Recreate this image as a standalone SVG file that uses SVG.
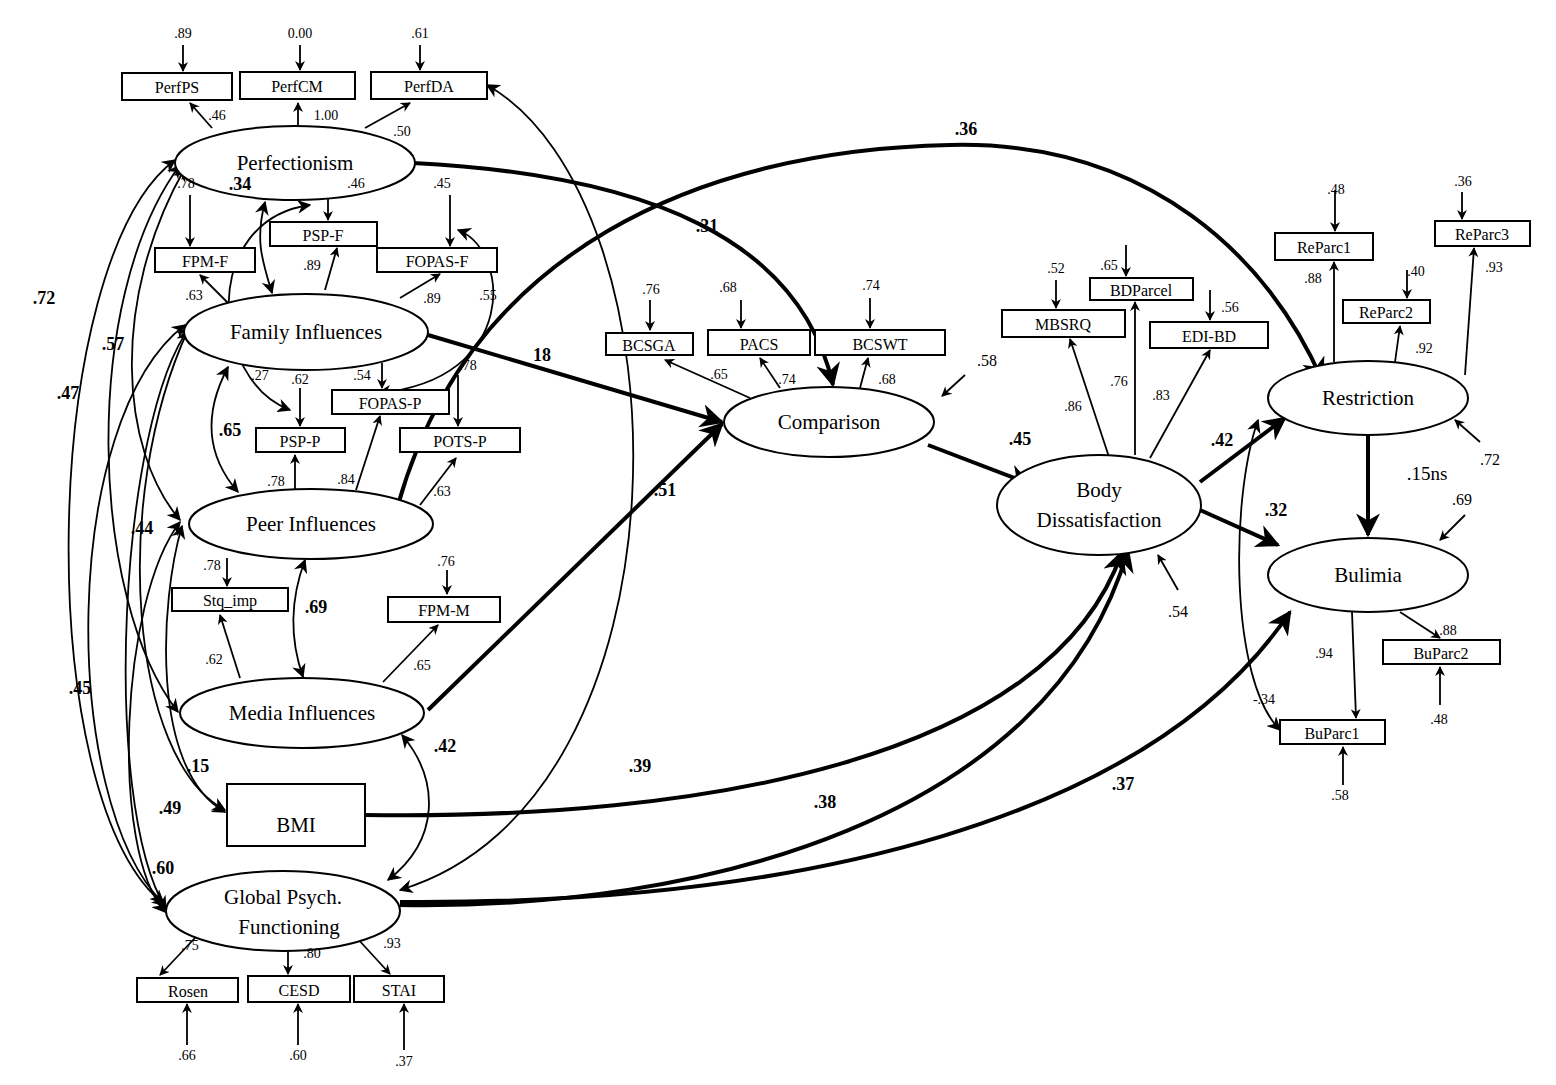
<svg xmlns="http://www.w3.org/2000/svg" width="1556" height="1085" viewBox="0 0 1556 1085">
<defs>
<marker id="a" viewBox="0 0 10 10" refX="9" refY="5" markerWidth="10" markerHeight="10" markerUnits="userSpaceOnUse" orient="auto-start-reverse"><path d="M0,0 L10,5 L0,10 L3,5 Z" fill="#000"/></marker>
<marker id="b" viewBox="0 0 10 10" refX="9" refY="5" markerWidth="14" markerHeight="14" markerUnits="userSpaceOnUse" orient="auto-start-reverse"><path d="M0,0 L10,5 L0,10 L3,5 Z" fill="#000"/></marker>
<marker id="c" viewBox="0 0 10 10" refX="9" refY="5" markerWidth="24" markerHeight="24" markerUnits="userSpaceOnUse" orient="auto"><path d="M0,0 L10,5 L0,10 L3,5 Z" fill="#000"/></marker>
</defs>
<style>
text{font-family:"Liberation Serif","Times New Roman",serif;fill:#000}
.n{font-size:21px;text-anchor:middle}
.o{font-size:16px;text-anchor:middle}
.s{font-size:14px;text-anchor:middle}
.b{font-size:18px;font-weight:bold;text-anchor:middle}
.m{font-size:19px;text-anchor:middle}
ellipse,rect{fill:#fff;stroke:#000;stroke-width:2}
.t path{fill:none;stroke:#000;stroke-width:1.8;marker-end:url(#a)}
.d path{fill:none;stroke:#000;stroke-width:1.8;marker-end:url(#b);marker-start:url(#b)}
.k path{fill:none;stroke:#000;stroke-width:4;marker-end:url(#c)}
</style>
<rect x="0" y="0" width="1556" height="1085" style="fill:#fff;stroke:none"/>
<g id="connectors">
<g class="k">
<path d="M413,163 C650,175 800,240 833,385"/>
<path d="M428,335 L722,422"/>
<path d="M398,505 C470,250 700,150 950,145 C1150,140 1270,260 1322,380"/>
<path d="M428,710 L722,424"/>
<path d="M928,445 L1030,484"/>
<path d="M365,815 C700,820 1050,760 1122,552"/>
<path d="M400,905 C700,910 1050,820 1128,550"/>
<path d="M400,902 C800,905 1150,820 1290,612"/>
<path d="M1200,482 L1285,418"/>
<path d="M1200,510 L1278,545"/>
<path d="M1368,430 L1368,535"/>
</g>
<g class="d">
<path d="M175,160 C40,260 30,800 165,905"/>
<path d="M180,165 C80,300 90,600 178,712"/>
<path d="M185,168 C110,300 120,450 180,520"/>
<path d="M185,325 C60,420 60,800 163,903"/>
<path d="M190,327 C120,420 100,800 166,909"/>
<path d="M188,330 C110,500 130,760 225,810"/>
<path d="M180,522 C120,600 110,850 165,912"/>
<path d="M182,526 C160,600 150,770 225,812"/>
<path d="M265,202 C255,240 262,260 272,293"/>
<path d="M228,367 C200,420 210,460 238,492"/>
<path d="M305,560 C290,600 290,640 303,677"/>
<path d="M402,735 C440,780 440,840 388,880"/>
<path d="M310,205 C200,220 210,380 290,410"/>
<path d="M458,230 C510,250 520,380 378,393"/>
<path d="M400,890 C700,800 690,200 487,85"/>
<path d="M1258,420 C1230,500 1230,680 1280,730"/>
</g>
<g class="t">
<path d="M183,45 L183,71"/><path d="M300,45 L300,70"/><path d="M420,45 L420,70"/>
<path d="M212,128 L190,103"/><path d="M298,150 L298,103"/><path d="M365,128 L410,103"/>
<path d="M190,195 L190,246"/><path d="M328,195 L328,220"/><path d="M450,195 L450,246"/>
<path d="M230,305 L200,275"/><path d="M325,290 L337,248"/><path d="M400,298 L440,274"/>
<path d="M382,363 L382,388"/><path d="M458,375 L458,426"/><path d="M300,388 L300,426"/>
<path d="M295,490 L295,455"/><path d="M356,490 L380,416"/><path d="M420,505 L456,458"/>
<path d="M227,558 L227,586"/><path d="M240,678 L220,615"/><path d="M447,570 L447,594"/><path d="M383,682 L438,625"/>
<path d="M210,922 L160,975"/><path d="M288,925 L288,974"/><path d="M345,925 L390,974"/>
<path d="M187,1045 L187,1004"/><path d="M298,1045 L298,1004"/><path d="M404,1050 L404,1004"/>
<path d="M650,300 L650,330"/><path d="M741,300 L741,328"/><path d="M870,298 L870,328"/>
<path d="M965,375 L942,396"/>
<path d="M750,398 L665,360"/><path d="M780,388 L760,358"/><path d="M860,388 L868,358"/>
<path d="M1056,280 L1056,308"/><path d="M1126,245 L1126,276"/><path d="M1210,290 L1210,320"/>
<path d="M1110,460 L1070,339"/><path d="M1135,455 L1135,302"/><path d="M1150,458 L1210,350"/>
<path d="M1178,590 L1158,555"/>
<path d="M1335,190 L1335,231"/><path d="M1407,270 L1407,298"/><path d="M1462,192 L1462,219"/>
<path d="M1334,362 L1334,262"/><path d="M1395,362 L1400,326"/><path d="M1465,375 L1474,248"/>
<path d="M1480,442 L1455,420"/><path d="M1465,515 L1440,540"/>
<path d="M1352,612 L1356,718"/><path d="M1400,612 L1440,638"/>
<path d="M1440,705 L1440,667"/><path d="M1343,785 L1343,747"/>
</g>
</g>
<g id="perf"><ellipse cx="295" cy="163" rx="120" ry="37"/><text class="n" x="295" y="170">Perfectionism</text></g>
<g id="family"><ellipse cx="306" cy="332" rx="122" ry="38"/><text class="n" x="306" y="339">Family Influences</text></g>
<g id="peer"><ellipse cx="311" cy="524" rx="122" ry="35"/><text class="n" x="311" y="531">Peer Influences</text></g>
<g id="media"><ellipse cx="302" cy="713" rx="122" ry="35"/><text class="n" x="302" y="720">Media Influences</text></g>
<g id="bmi"><rect x="227" y="784" width="138" height="62"/><text class="n" x="296" y="832">BMI</text></g>
<g id="global"><ellipse cx="283" cy="911" rx="117" ry="40"/><text class="n" x="283" y="904">Global Psych.</text><text class="n" x="289" y="934">Functioning</text></g>
<g id="comparison"><ellipse cx="829" cy="422" rx="105" ry="35"/><text class="n" x="829" y="429">Comparison</text></g>
<g id="bd"><ellipse cx="1099" cy="505" rx="102" ry="50"/><text class="n" x="1099" y="497">Body</text><text class="n" x="1099" y="527">Dissatisfaction</text></g>
<g id="restriction"><ellipse cx="1368" cy="398" rx="100" ry="37"/><text class="n" x="1368" y="405">Restriction</text></g>
<g id="bulimia"><ellipse cx="1368" cy="575" rx="100" ry="37"/><text class="n" x="1368" y="582">Bulimia</text></g>
<g id="ind">
<rect x="122" y="73" width="110" height="27"/><text class="o" x="177" y="93">PerfPS</text>
<rect x="240" y="72" width="115" height="27"/><text class="o" x="297" y="92">PerfCM</text>
<rect x="371" y="72" width="116" height="27"/><text class="o" x="429" y="92">PerfDA</text>
<rect x="270" y="222" width="107" height="24"/><text class="o" x="323" y="241">PSP-F</text>
<rect x="155" y="248" width="100" height="24"/><text class="o" x="205" y="267">FPM-F</text>
<rect x="377" y="248" width="120" height="24"/><text class="o" x="437" y="267">FOPAS-F</text>
<rect x="332" y="390" width="117" height="24"/><text class="o" x="390" y="409">FOPAS-P</text>
<rect x="256" y="428" width="89" height="24"/><text class="o" x="300" y="447">PSP-P</text>
<rect x="400" y="428" width="120" height="24"/><text class="o" x="460" y="447">POTS-P</text>
<rect x="172" y="588" width="116" height="23"/><text class="o" x="230" y="606">Stq_imp</text>
<rect x="388" y="597" width="112" height="25"/><text class="o" x="444" y="616">FPM-M</text>
<rect x="137" y="978" width="101" height="24"/><text class="o" x="188" y="997">Rosen</text>
<rect x="248" y="976" width="102" height="26"/><text class="o" x="299" y="996">CESD</text>
<rect x="354" y="976" width="90" height="26"/><text class="o" x="399" y="996">STAI</text>
<rect x="606" y="333" width="87" height="22"/><text class="o" x="649" y="351">BCSGA</text>
<rect x="708" y="330" width="102" height="25"/><text class="o" x="759" y="350">PACS</text>
<rect x="815" y="330" width="130" height="25"/><text class="o" x="880" y="350">BCSWT</text>
<rect x="1002" y="310" width="123" height="27"/><text class="o" x="1063" y="330">MBSRQ</text>
<rect x="1090" y="278" width="103" height="22"/><text class="o" x="1141" y="296">BDParcel</text>
<rect x="1150" y="322" width="118" height="26"/><text class="o" x="1209" y="342">EDI-BD</text>
<rect x="1275" y="233" width="98" height="27"/><text class="o" x="1324" y="253">ReParc1</text>
<rect x="1343" y="300" width="87" height="23"/><text class="o" x="1386" y="318">ReParc2</text>
<rect x="1435" y="221" width="95" height="25"/><text class="o" x="1482" y="240">ReParc3</text>
<rect x="1383" y="640" width="117" height="24"/><text class="o" x="1441" y="659">BuParc2</text>
<rect x="1280" y="720" width="105" height="24"/><text class="o" x="1332" y="739">BuParc1</text>
</g>
<g id="labels">
<text class="s" x="183" y="38">.89</text><text class="s" x="300" y="38">0.00</text><text class="s" x="420" y="38">.61</text>
<text class="s" x="217" y="120">.46</text><text class="s" x="326" y="120">1.00</text><text class="s" x="402" y="136">.50</text>
<text class="s" x="186" y="188">.78</text><text class="s" x="356" y="188">.46</text><text class="s" x="442" y="188">.45</text>
<text class="s" x="312" y="270">.89</text><text class="s" x="194" y="300">.63</text><text class="s" x="432" y="303">.89</text><text class="s" x="488" y="300">.55</text>
<text class="s" x="260" y="380">.27</text><text class="s" x="362" y="380">.54</text><text class="s" x="468" y="370">.78</text><text class="s" x="300" y="384">.62</text>
<text class="s" x="276" y="486">.78</text><text class="s" x="346" y="484">.84</text><text class="s" x="442" y="496">.63</text>
<text class="s" x="212" y="570">.78</text><text class="s" x="214" y="664">.62</text><text class="s" x="446" y="566">.76</text><text class="s" x="422" y="670">.65</text>
<text class="s" x="190" y="950">.75</text><text class="s" x="312" y="958">.80</text><text class="s" x="392" y="948">.93</text>
<text class="s" x="187" y="1060">.66</text><text class="s" x="298" y="1060">.60</text><text class="s" x="404" y="1066">.37</text>
<text class="s" x="651" y="294">.76</text><text class="s" x="728" y="292">.68</text><text class="s" x="871" y="290">.74</text>
<text class="s" x="719" y="379">.65</text><text class="s" x="787" y="384">.74</text><text class="s" x="887" y="384">.68</text><text class="o" x="987" y="366">.58</text>
<text class="s" x="1056" y="273">.52</text><text class="s" x="1109" y="270">.65</text><text class="s" x="1230" y="312">.56</text>
<text class="s" x="1073" y="411">.86</text><text class="s" x="1119" y="386">.76</text><text class="s" x="1161" y="400">.83</text>
<text class="o" x="1178" y="617">.54</text>
<text class="s" x="1336" y="194">.48</text><text class="s" x="1416" y="276">.40</text><text class="s" x="1463" y="186">.36</text>
<text class="s" x="1313" y="283">.88</text><text class="s" x="1424" y="353">.92</text><text class="s" x="1494" y="272">.93</text>
<text class="o" x="1490" y="465">.72</text><text class="o" x="1462" y="505">.69</text>
<text class="s" x="1324" y="658">.94</text><text class="s" x="1448" y="635">.88</text><text class="s" x="1439" y="724">.48</text><text class="s" x="1340" y="800">.58</text>
<text class="s" x="1264" y="704">-.34</text>
<text class="b" x="44" y="304">.72</text><text class="b" x="113" y="350">.57</text><text class="b" x="68" y="399">.47</text>
<text class="b" x="240" y="190">.34</text><text class="b" x="230" y="436">.65</text><text class="b" x="142" y="534">.44</text>
<text class="b" x="316" y="613">.69</text><text class="b" x="80" y="694">.45</text><text class="b" x="198" y="772">.15</text>
<text class="b" x="170" y="814">.49</text><text class="b" x="163" y="874">.60</text><text class="b" x="445" y="752">.42</text>
<text class="b" x="707" y="232">.31</text><text class="b" x="542" y="361">18</text><text class="b" x="966" y="135">.36</text>
<text class="b" x="665" y="496">.51</text><text class="b" x="1020" y="445">.45</text><text class="b" x="640" y="772">.39</text>
<text class="b" x="825" y="808">.38</text><text class="b" x="1123" y="790">.37</text>
<text class="b" x="1222" y="446">.42</text><text class="b" x="1276" y="516">.32</text><text class="m" x="1427" y="480">.15ns</text>
</g>
</svg>
